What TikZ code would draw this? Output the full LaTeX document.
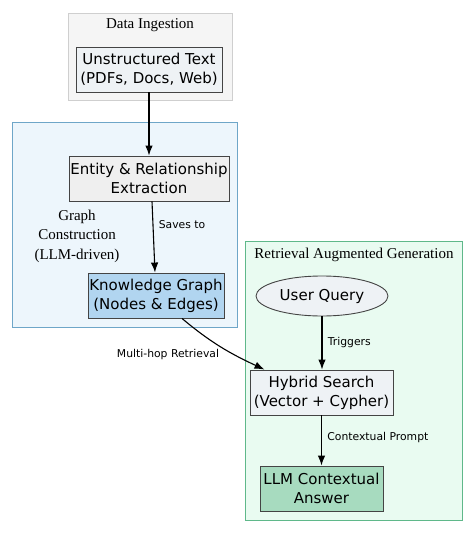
\documentclass[tikz,border=0pt]{standalone}
\usepackage{fontspec}
\setmainfont{Liberation Serif}
\newfontfamily\nodefont{DejaVu Sans}
\usetikzlibrary{arrows.meta,shapes.geometric}
\definecolor{ingfill}{HTML}{F5F5F5}
\definecolor{ingdraw}{HTML}{CFCFCF}
\definecolor{gcfill}{HTML}{EDF6FC}
\definecolor{gcdraw}{HTML}{6EA6C8}
\definecolor{ragfill}{HTML}{E9FBF1}
\definecolor{ragdraw}{HTML}{5FB88A}
\definecolor{boxgrey}{HTML}{EEF2F5}
\definecolor{boxlight}{HTML}{EFEFEF}
\definecolor{boxblue}{HTML}{B1D5F0}
\definecolor{boxgreen}{HTML}{A7DBBF}
\definecolor{edgecol}{HTML}{444444}
\tikzset{
  cluster/.style={draw, line width=0.9pt, inner sep=0pt},
  clabel/.style={font=\fontsize{15}{19.5}\selectfont, align=center},
  procbox/.style={draw=edgecol, line width=0.9pt, align=center, inner sep=0pt,
    font=\nodefont\fontsize{15}{19}\selectfont, minimum height=45pt},
  elabel/.style={font=\nodefont\fontsize{10.8}{13}\selectfont},
  arr/.style={-{Latex[length=10pt,width=7.5pt]}, line width=1.1pt, black}
}
\begin{document}
\begin{tikzpicture}[x=1pt,y=-1pt]
\useasboundingbox (0,0) rectangle (474,533);
\fill[white] (0,0) rectangle (474,533);
% clusters
\node[cluster, draw=ingdraw, fill=ingfill, minimum width=164pt, minimum height=87pt] (ingest) at (150,56.5) {};
\node[cluster, draw=gcdraw, fill=gcfill, minimum width=225pt, minimum height=205pt] (gc) at (124.5,224.5) {};
\node[cluster, draw=ragdraw, fill=ragfill, minimum width=217pt, minimum height=279pt] (rag) at (353.5,380.5) {};
\node[clabel] (inglab) at (150,25) {Data Ingestion};
\node[clabel] (gclab) at (77,236) {Graph\\Construction\\(LLM-driven)};
\node[clabel] (raglab) at (354,255) {Retrieval Augmented Generation};
% nodes
\node[procbox, fill=boxgrey, minimum width=146pt] (unstr) at (149,69.5) {Unstructured Text\\(PDFs, Docs, Web)};
\node[procbox, fill=boxlight, minimum width=160pt] (entity) at (149,178.5) {Entity \& Relationship\\Extraction};
\node[procbox, fill=boxblue, minimum width=136pt] (kg) at (156,295.5) {Knowledge Graph\\(Nodes \& Edges)};
\node[procbox, ellipse, fill=boxgrey, minimum width=132pt, minimum height=40pt] (uq) at (322,296) {User Query};
\node[procbox, fill=boxgrey, minimum width=143pt] (hyb) at (321.5,392.5) {Hybrid Search\\(Vector + Cypher)};
\node[procbox, fill=boxgreen, minimum width=123pt] (llm) at (321.5,488.5) {LLM Contextual\\Answer};
% edges
\draw[arr] (unstr.south) -- (entity.north);
\draw[arr] ([xshift=3pt]entity.south) -- node[elabel, right, xshift=2pt, pos=0.33] (savlab) {Saves to} ([xshift=-1pt]kg.north);
\draw[arr] ([xshift=26pt]kg.south) to[out=-40, in=155] ([xshift=-57pt]hyb.north);
\node[elabel] (mhlab) at (168,355) {Multi-hop Retrieval};
\draw[arr] (uq.south) -- node[elabel, right, xshift=2pt] (triglab) {Triggers} (hyb.north -| uq.south);
\draw[arr] (hyb.south) -- node[elabel, right, xshift=2pt, pos=0.45] (ctxlab) {Contextual Prompt} (llm.north);
\end{tikzpicture}
\end{document}
